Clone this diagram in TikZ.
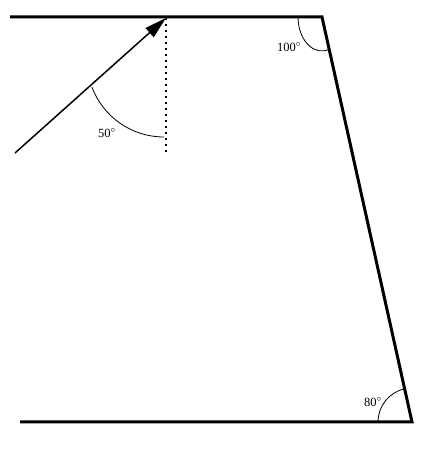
\documentclass[tikz,border=0pt]{standalone}
\usepackage{fontspec}
\setmainfont{Liberation Serif}
\usetikzlibrary{arrows.meta}
\begin{document}
\begin{tikzpicture}[x=1pt,y=1pt,
  wall/.style={line width=3pt},
  ray/.style={line width=1.5pt,-{Triangle[length=22pt,width=12pt]}},
  anglearc/.style={line width=0.8pt},
  normalline/.style={line width=1.8pt,dash pattern=on 1.6pt off 4.4pt},
  lbl/.style={font=\fontsize{12.5}{14}\selectfont,inner sep=0pt}]
\useasboundingbox (0,0) rectangle (435,450);
\coordinate (TL) at (10,433);
\coordinate (TR) at (322,433);
\coordinate (BR) at (412,28);
\coordinate (BL) at (20,28);
\coordinate (A) at (15,297);
\coordinate (T) at (166,432);
\coordinate (N) at (166,295);
\draw[wall] (TL) -- (TR) -- (BR) -- (BL);
\draw[normalline] (T) -- (N);
\draw[ray] (A) -- (T);
\draw[anglearc] (164,390) ++(200.6:77) arc[start angle=200.6,end angle=270,radius=77];
\draw[anglearc] (TR) ++(180:24) arc[start angle=180,end angle=287.5,x radius=24,y radius=34];
\draw[anglearc] (BR) ++(180:34) arc[start angle=180,end angle=102.5,radius=34];
\node[lbl] (l50) at (107,317) {50$^{\circ}$};
\node[lbl] (l100) at (289,403) {100$^{\circ}$};
\node[lbl] (l80) at (373,48) {80$^{\circ}$};
\end{tikzpicture}
\end{document}
